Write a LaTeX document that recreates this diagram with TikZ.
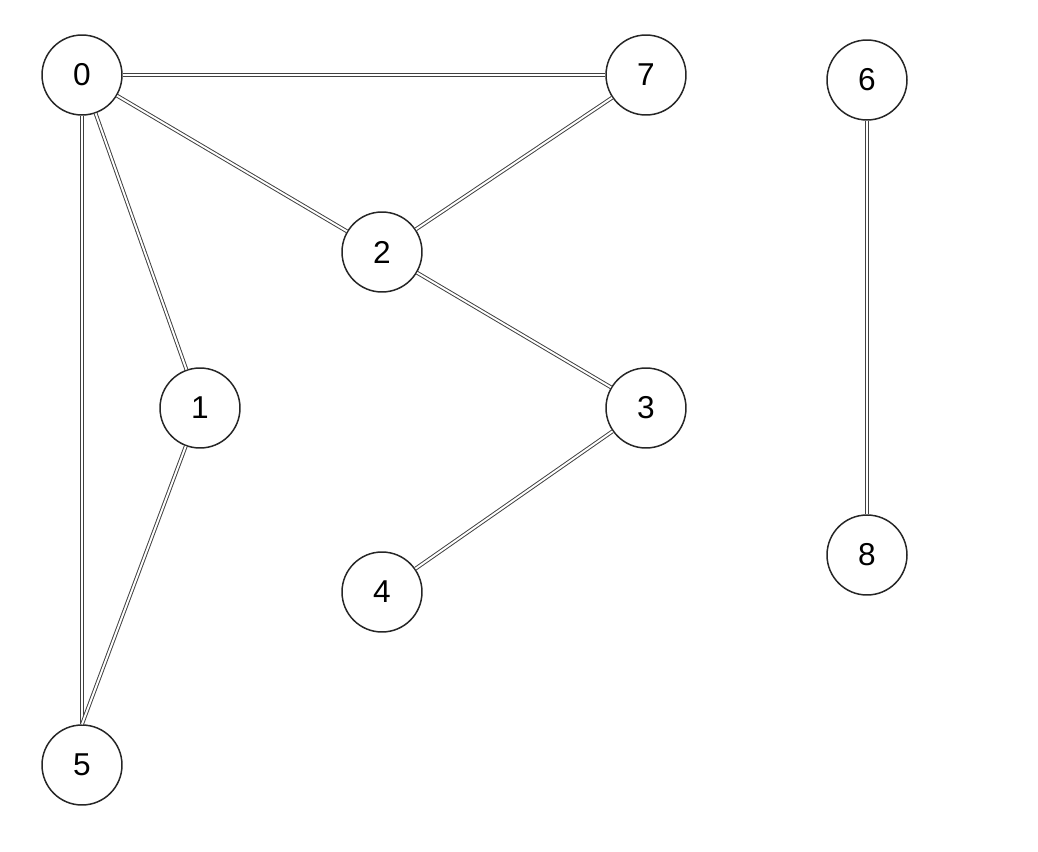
\documentclass[tikz,border=0pt]{standalone}
\usepackage{fontspec}
\setmainfont{Liberation Sans}
\usetikzlibrary{positioning}

\tikzset{
  vertex/.style={circle, draw=black!85, line width=0.85pt, minimum size=1.6cm,
                 inner sep=0pt, font=\fontsize{18}{21}\selectfont},
  link/.style={draw=black!75, line width=0.55pt, double=white, double distance=1.1pt}
}

\begin{document}
\begin{tikzpicture}[x=0.02cm, y=-0.02cm]
  \useasboundingbox (0,0) rectangle (1038,852);

  % vertices
  \node[vertex] (n0) at (82,75) {0};
  \node[vertex] (n7) at (646,75) {7};
  \node[vertex] (n6) at (867,80) {6};
  \node[vertex] (n2) at (382,252) {2};
  \node[vertex] (n1) at (200,408) {1};
  \node[vertex] (n3) at (646,408) {3};
  \node[vertex] (n8) at (867,555) {8};
  \node[vertex] (n4) at (382,592) {4};
  \node[vertex] (n5) at (82,765) {5};

  % edges
  \draw[link] (n0) -- (n7);
  \draw[link] (n0) -- (n2);
  \draw[link] (n0) -- (n1);
  \draw[link] (n0) -- (n5);
  \draw[link] (n7) -- (n2);
  \draw[link] (n2) -- (n3);
  \draw[link] (n3) -- (n4);
  \draw[link] (n1) -- (n5.north);
  \draw[link] (n6) -- (n8);
\end{tikzpicture}
\end{document}
